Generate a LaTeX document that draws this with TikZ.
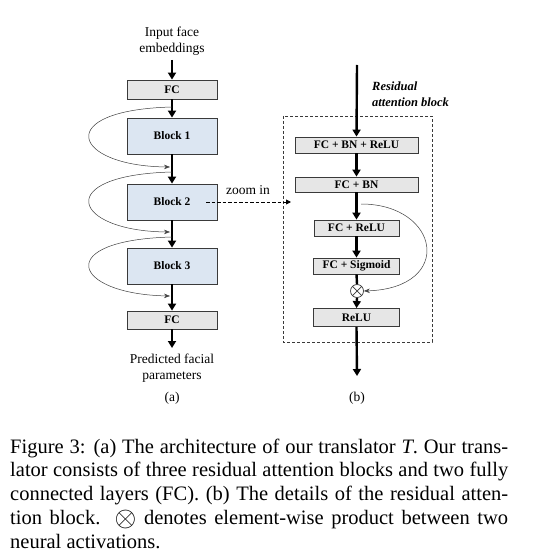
\documentclass[tikz,border=0pt]{standalone}
\usepackage{fontspec}
\setmainfont{Liberation Serif}
\usetikzlibrary{arrows.meta}
\definecolor{fcgray}{HTML}{E6E6E6}
\definecolor{blkblue}{HTML}{DCE6F2}
\definecolor{edge}{HTML}{3A3A3A}
\tikzset{
  fcbox/.style={draw=edge, line width=0.8pt, fill=fcgray, minimum width=90pt, minimum height=19pt, inner sep=0pt, font=\fontsize{11.5}{13}\selectfont\bfseries},
  blkbox/.style={draw=edge, line width=0.8pt, fill=blkblue, minimum width=90pt, minimum height=36pt, inner sep=0pt, font=\fontsize{11.5}{13}\selectfont\bfseries},
  rbox/.style={draw=edge, line width=0.8pt, fill=fcgray, minimum height=16pt, inner sep=0pt, font=\fontsize{11.5}{13}\selectfont\bfseries},
  thick arrow/.style={line width=2.4pt, -{Triangle[width=8pt,length=7pt]}},
  thick line/.style={line width=2.4pt},
  skip arrow/.style={line width=0.5pt, draw=black!75, -{Stealth[width=4.5pt,length=6pt]}},
  lbl/.style={font=\fontsize{13.5}{16}\selectfont, inner sep=0pt},
}
\begin{document}
\begin{tikzpicture}[x=1pt,y=-1pt]
\useasboundingbox (0,0) rectangle (539,553);
\fill[white] (0,0) rectangle (539,553);

% ---------- (a) ----------
\node[lbl, align=center] (inp) at (172,41) {Input face\\embeddings};
\coordinate (inTop) at (172,60);
\node[fcbox] (fc1) at (172,89.5) {FC};
\node[blkbox] (b1) at (172,136) {Block 1};
\node[blkbox] (b2) at (172,202) {Block 2};
\node[blkbox] (b3) at (172,266) {Block 3};
\node[fcbox, minimum height=18pt] (fc2) at (172,320) {FC};
\coordinate (outBot) at (172,348);
\node[lbl, align=center] (pred) at (172,368) {Predicted facial\\parameters};
\node[lbl] (capa) at (172,398) {(a)};

\draw[thick arrow] (inTop) -- (fc1.north);
\draw[thick arrow] (fc1.south) -- (b1.north);
\draw[thick arrow] (b1.south) -- (b2.north);
\draw[thick arrow] (b2.south) -- (b3.north);
\draw[thick arrow] (b3.south) -- (fc2.north);
\draw[thick arrow] (fc2.south) -- (outBot);

\coordinate (s1) at (172,107);  \coordinate (e1) at (170,167);
\coordinate (s2) at (172,172);  \coordinate (e2) at (170,232);
\coordinate (s3) at (172,237);  \coordinate (e3) at (170,296);
\draw[skip arrow] (s1) .. controls (52,110) and (72,166) .. (e1);
\draw[skip arrow] (s2) .. controls (52,175) and (72,231) .. (e2);
\draw[skip arrow] (s3) .. controls (52,240) and (72,294) .. (e3);

% ---------- (b) ----------
\node[font=\fontsize{12.5}{16}\selectfont\bfseries\itshape, align=left, anchor=west, inner sep=0pt] (rab) at (372,94) {Residual\\attention block};
\draw[dashed, dash pattern=on 3pt off 2pt, line width=0.7pt, draw=edge] (283,116) rectangle (432,342);
\coordinate (rTop) at (357,65);
\node[rbox, minimum width=123pt] (r1) at (356.5,145) {FC + BN + ReLU};
\node[rbox, minimum width=123pt, minimum height=15pt] (r2) at (356.5,184.5) {FC + BN};
\node[rbox, minimum width=85pt] (r3) at (356.5,228) {FC + ReLU};
\node[rbox, minimum width=86pt] (r4) at (356.5,266) {FC + Sigmoid};
\node[draw=edge, line width=0.7pt, circle, minimum size=13pt, inner sep=0pt, fill=white] (mul) at (357,291) {};
\draw[line width=0.7pt, draw=edge] (mul.45) -- (mul.225) (mul.135) -- (mul.315);
\node[rbox, minimum width=86pt, minimum height=18pt] (r5) at (356.5,317.5) {ReLU};
\coordinate (rBot) at (357,376);
\node[lbl] (capb) at (357,398) {(b)};

\draw[thick arrow] (rTop) -- (r1.north);
\draw[thick arrow] (r1.south) -- (r2.north);
\draw[thick arrow] (r2.south) -- (r3.north);
\draw[thick arrow] (r3.south) -- (r4.north);
\draw[thick line] (r4.south) -- (mul.north);
\draw[thick arrow] (mul.south) -- (r5.north);
\draw[thick arrow] (r5.south) -- (rBot);

\coordinate (rs) at (361,204);
\draw[skip arrow] (rs) .. controls (440,204) and (455,288) .. (mul.east);

% zoom in
\node[lbl] (zoom) at (248,190) {zoom in};
\coordinate (zs) at (206,202);
\coordinate (ze) at (291,202);
\draw[line width=0.9pt, dash pattern=on 3.5pt off 2pt, -{Triangle[width=5pt,length=5pt]}] (zs) -- (ze);

% ---------- caption ----------
\node[anchor=base west, inner sep=0pt] (cap) at (10,453) {\parbox[t]{498pt}{\fontsize{20.5}{23.75}\selectfont
  \hyphenpenalty=10000 \tolerance=9999 \parindent=0pt
  Figure 3: (a) The architecture of our translator \textit{T}. Our trans-\linebreak
  lator consists of three residual attention blocks and two fully\linebreak
  connected layers (FC). (b) The details of the residual atten-\linebreak
  tion block. \raisebox{-0.12em}{\scalebox{1.35}{$\mathord{\otimes}$}} denotes element-wise product between two\linebreak
  neural activations.}};
\end{tikzpicture}
\end{document}
